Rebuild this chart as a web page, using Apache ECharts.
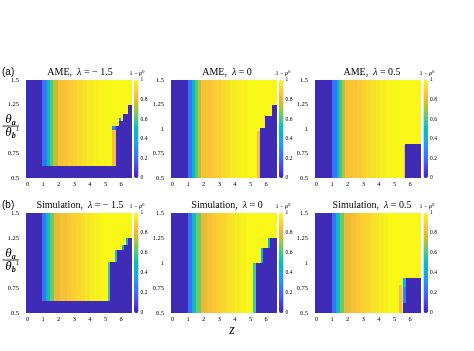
<!DOCTYPE html>
<html>
<head>
<meta charset="utf-8">
<script src="https://cdn.jsdelivr.net/npm/echarts@6/dist/echarts.min.js"></script>
<style>
  html, body { margin: 0; padding: 0; background: #fff; }
  #chart { width: 474px; height: 351px; }
</style>
</head>
<body>
<div id="chart"></div>
<script>
// ---- axes ----
const zTicks = [0, 1, 2, 3, 4, 5, 6];
const zRange = [-0.1, 6.7];
const thetaRange = [0.5, 1.5];
const colorTicksStep = 0.2;

const titles = [
  'AME,  {i|λ} = − 1.5', 'AME,  {i|λ} = 0', 'AME,  {i|λ} = 0.5',
  'Simulation,  {i|λ} = − 1.5', 'Simulation,  {i|λ} = 0', 'Simulation,  {i|λ} = 0.5'
];

// value of 1 - rho^0 inside the collapsed (dark) region
const collapsedValue = 0.02;

// ---- AME, lambda = -1.5 ----
// vertical colour bands: z where each band starts, and its value
const ameM15Start = [-0.1, 0.9, 1.22, 1.45, 1.65, 1.95, 2.3, 2.6, 2.9, 3.2, 3.5, 3.8, 4.2, 4.6, 5.0];
const ameM15Value = [0.02, 0.22, 0.47, 0.6, 0.74, 0.84, 0.86, 0.875, 0.895, 0.915, 0.935, 0.955, 0.97, 0.98, 0.99];
// collapsed steps: [z from, z to, theta top]
const ameM15Steps = [[5.65, 5.86, 1.03], [5.86, 6.14, 1.086], [6.14, 6.42, 1.154], [6.42, 6.7, 1.245]];
const ameM15Floor = 0.618;
// single boundary cells: [z from, z to, theta from, theta to, value]
const ameM15Spots = [[5.4, 5.65, 0.618, 0.99, 0.84], [5.4, 5.65, 0.99, 1.03, 0.25], [5.86, 6.0, 1.086, 1.11, 0.3]];

// ---- AME, lambda = 0 ----
const ame0Start = [-0.1, 0.97, 1.24, 1.45, 1.62, 1.8, 2.2, 2.5, 2.8, 3.1, 3.4, 3.7, 4.0, 4.4, 4.8];
const ame0Value = [0.02, 0.22, 0.45, 0.6, 0.72, 0.84, 0.86, 0.875, 0.895, 0.915, 0.935, 0.955, 0.97, 0.98, 0.99];
const ame0Steps = [[5.63, 5.95, 1.01], [5.95, 6.38, 1.13], [6.38, 6.7, 1.245]];
const ame0Floor = 0.5;
const ame0Spots = [[5.4, 5.63, 0.5, 0.98, 0.84]];

// ---- AME, lambda = 0.5 ----
const ameP05Start = [-0.1, 0.97, 1.29, 1.45, 1.6, 1.82, 2.3, 2.6, 2.9, 3.2, 3.5, 3.8, 4.1, 4.5, 4.9];
const ameP05Value = [0.02, 0.22, 0.42, 0.58, 0.72, 0.84, 0.86, 0.875, 0.895, 0.915, 0.935, 0.955, 0.97, 0.98, 0.99];
const ameP05Steps = [[5.67, 6.7, 0.85]];
const ameP05Floor = 0.5;
const ameP05Spots = [[5.6, 5.67, 0.5, 0.84, 0.86]];

// ---- Simulation, lambda = -1.5 ----
const simM15Start = [-0.1, 0.9, 1.16, 1.3, 1.44, 1.7, 2.1, 2.5, 2.8, 3.1, 3.4, 3.7, 4.0, 4.3, 4.7];
const simM15Value = [0.02, 0.22, 0.42, 0.52, 0.64, 0.8, 0.84, 0.865, 0.885, 0.905, 0.925, 0.945, 0.96, 0.975, 0.99];
const simM15Steps = [[5.3, 5.76, 1.01], [5.76, 6.19, 1.13], [6.19, 6.46, 1.18], [6.46, 6.7, 1.255]];
const simM15Floor = 0.618;
const simM15Spots = [[5.15, 5.3, 0.618, 1.01, 0.6], [5.62, 5.76, 1.01, 1.13, 0.55], [6.05, 6.19, 1.13, 1.18, 0.5], [6.32, 6.46, 1.18, 1.255, 0.45]];

// ---- Simulation, lambda = 0 ----
const sim0Start = [-0.1, 0.97, 1.25, 1.4, 1.52, 1.82, 2.2, 2.5, 2.8, 3.1, 3.4, 3.7, 4.0, 4.35, 4.7];
const sim0Value = [0.02, 0.22, 0.42, 0.52, 0.64, 0.8, 0.84, 0.865, 0.885, 0.905, 0.925, 0.945, 0.96, 0.975, 0.99];
const sim0Steps = [[5.33, 5.8, 1.0], [5.8, 6.23, 1.148], [6.23, 6.7, 1.25]];
const sim0Floor = 0.5;
const sim0Spots = [[5.15, 5.33, 0.5, 1.0, 0.6], [5.65, 5.8, 1.0, 1.148, 0.5], [6.1, 6.23, 1.148, 1.25, 0.5]];

// ---- Simulation, lambda = 0.5 ----
const simP05Start = [-0.1, 0.97, 1.25, 1.38, 1.5, 1.78, 2.2, 2.5, 2.8, 3.1, 3.4, 3.7, 4.0, 4.3, 4.6];
const simP05Value = [0.02, 0.22, 0.42, 0.52, 0.64, 0.8, 0.84, 0.865, 0.885, 0.905, 0.925, 0.945, 0.96, 0.975, 0.99];
const simP05Steps = [[5.53, 6.7, 0.852]];
const simP05Floor = 0.5;
const simP05Spots = [[5.3, 5.5, 0.5, 0.78, 0.84], [5.53, 5.74, 0.6, 0.76, 0.25], [5.53, 5.74, 0.76, 0.852, 0.45]];

// MATLAB parula
const parula = ['#3E26A8', '#4537D5', '#484DF0', '#4563FD', '#327CFC', '#2B91EF', '#20A5E3', '#08B5D0',
  '#06BBC0', '#2CC4A7', '#57CC7A', '#8FCA4E', '#C5C22A', '#EFBA36', '#FEC934', '#F5E327', '#F9FB15'];

const panels = [
  { start: ameM15Start, value: ameM15Value, steps: ameM15Steps, floor: ameM15Floor, spots: ameM15Spots },
  { start: ame0Start, value: ame0Value, steps: ame0Steps, floor: ame0Floor, spots: ame0Spots },
  { start: ameP05Start, value: ameP05Value, steps: ameP05Steps, floor: ameP05Floor, spots: ameP05Spots },
  { start: simM15Start, value: simM15Value, steps: simM15Steps, floor: simM15Floor, spots: simM15Spots },
  { start: sim0Start, value: sim0Value, steps: sim0Steps, floor: sim0Floor, spots: sim0Spots },
  { start: simP05Start, value: simP05Value, steps: simP05Steps, floor: simP05Floor, spots: simP05Spots },
];

// ---- layout ----
const serif = '"Liberation Serif", "DejaVu Serif", serif';
const plotLeft = [26, 171, 315];
const plotWidth = 106;
const plotTop = [80, 213];
const plotHeight = [98, 100];
const barLeft = [134, 279, 423.5];
const barWidth = 4.5;
const titleX = [80, 227, 372];
const rhoX = [137, 283, 427];

// turn bands / steps / spots into cells [z0, z1, t0, t1, value]
function buildCells(p) {
  const cells = [];
  p.start.forEach((z0, i) => {
    const z1 = i + 1 < p.start.length ? p.start[i + 1] : zRange[1];
    cells.push([z0, z1, p.floor, thetaRange[1], p.value[i]]);
  });
  if (p.floor > thetaRange[0]) cells.push([zRange[0], zRange[1], thetaRange[0], p.floor, collapsedValue]);
  p.steps.forEach((s) => cells.push([s[0], s[1], p.floor, s[2], collapsedValue]));
  p.spots.forEach((s) => cells.push(s));
  return cells;
}

function renderCell(params, api) {
  const a = api.coord([api.value(0), api.value(3)]);
  const b = api.coord([api.value(1), api.value(2)]);
  const x0 = Math.round(a[0]), x1 = Math.round(b[0]);
  const y0 = Math.round(a[1]), y1 = Math.round(b[1]);
  return {
    type: 'rect',
    shape: { x: x0, y: y0, width: x1 - x0, height: y1 - y0 },
    style: { fill: api.visual('color') },
  };
}

const grid = [], xAxis = [], yAxis = [], series = [], visualMap = [], graphic = [];
const tickLabel = { fontFamily: serif, fontSize: 6.5, color: '#000' };

panels.forEach((p, i) => {
  const col = i % 3, row = Math.floor(i / 3);
  grid.push({ left: plotLeft[col], top: plotTop[row], width: plotWidth, height: plotHeight[row] });
  xAxis.push({
    gridIndex: i, type: 'value', min: zRange[0], max: zRange[1],
    axisLine: { show: false }, axisTick: { show: false }, splitLine: { show: false },
    axisLabel: Object.assign({ customValues: zTicks, margin: 3 }, tickLabel),
  });
  yAxis.push({
    gridIndex: i, type: 'value', min: thetaRange[0], max: thetaRange[1], interval: 0.25,
    axisLine: { show: false }, axisTick: { show: false }, splitLine: { show: false },
    axisLabel: Object.assign({ margin: 7 }, tickLabel),
  });
  series.push({
    type: 'custom', xAxisIndex: i, yAxisIndex: i, clip: true, silent: true,
    encode: { x: [0, 1], y: [2, 3] },
    data: buildCells(p), renderItem: renderCell,
  });
  visualMap.push({
    type: 'continuous', min: 0, max: 1, dimension: 4, seriesIndex: i,
    inRange: { color: parula }, calculable: false, hoverLink: false, padding: 0,
    orient: 'vertical', left: barLeft[col], top: plotTop[row],
    itemWidth: barWidth, itemHeight: plotHeight[row],
  });
  graphic.push({
    type: 'text', x: titleX[col], y: plotTop[row] - 8, silent: true,
    style: {
      text: titles[i], fill: '#000', align: 'center', verticalAlign: 'middle',
      font: '10px ' + serif,
      rich: { i: { fontStyle: 'italic', fontSize: 10, fontFamily: serif } },
    },
  });
  graphic.push({
    type: 'text', x: rhoX[col], y: plotTop[row] - 7, silent: true,
    style: {
      text: '1 − {i|ρ}{s|0}', fill: '#000', align: 'center', verticalAlign: 'middle',
      font: '6px ' + serif,
      rich: { i: { fontStyle: 'italic', fontSize: 6.5, fontFamily: serif }, s: { fontSize: 5, fontFamily: serif, verticalAlign: 'top' } },
    },
  });
});

// colour bar tick labels
panels.forEach((p, i) => {
  const col = i % 3, row = Math.floor(i / 3);
  const g = grid.length;
  grid.push({ left: barLeft[col], top: plotTop[row], width: barWidth, height: plotHeight[row] });
  xAxis.push({ gridIndex: g, type: 'value', min: 0, max: 1, show: false });
  yAxis.push({
    gridIndex: g, type: 'value', position: 'right', min: 0, max: 1, interval: colorTicksStep,
    axisLine: { show: false }, axisTick: { show: false }, splitLine: { show: false },
    axisLabel: Object.assign({ margin: 2 }, tickLabel, { fontSize: 5.5 }),
  });
});

// panel letters, theta fraction and z label
['(a)', '(b)'].forEach((t, r) => {
  graphic.push({
    type: 'text', x: 2, y: plotTop[r] - 8, silent: true,
    style: { text: t, fill: '#000', font: '10px "Liberation Sans", Arial, sans-serif', verticalAlign: 'middle' },
  });
  const mid = plotTop[r] + plotHeight[r] * 0.47;
  graphic.push({
    type: 'text', x: 10.5, y: mid - 6, silent: true,
    style: {
      text: '{t|θ}{s|a}', fill: '#000', align: 'center', verticalAlign: 'middle',
      rich: { t: { font: 'italic 13px ' + serif }, s: { font: 'italic bold 8px ' + serif, verticalAlign: 'bottom' } },
    },
  });
  graphic.push({ type: 'line', silent: true, shape: { x1: 2.5, y1: mid, x2: 19, y2: mid }, style: { stroke: '#000', lineWidth: 0.8 } });
  graphic.push({
    type: 'text', x: 10.5, y: mid + 7, silent: true,
    style: {
      text: '{t|θ}{s|b}', fill: '#000', align: 'center', verticalAlign: 'middle',
      rich: { t: { font: 'italic 13px ' + serif }, s: { font: 'italic bold 8px ' + serif, verticalAlign: 'bottom' } },
    },
  });
});
graphic.push({
  type: 'text', x: 232, y: 330, silent: true,
  style: { text: 'z', fill: '#000', align: 'center', verticalAlign: 'middle', font: 'italic 14px ' + serif },
});

const chart = echarts.init(document.getElementById('chart'));
chart.setOption({
  animation: false,
  grid, xAxis, yAxis, series, visualMap, graphic,
});
</script>
</body>
</html>
